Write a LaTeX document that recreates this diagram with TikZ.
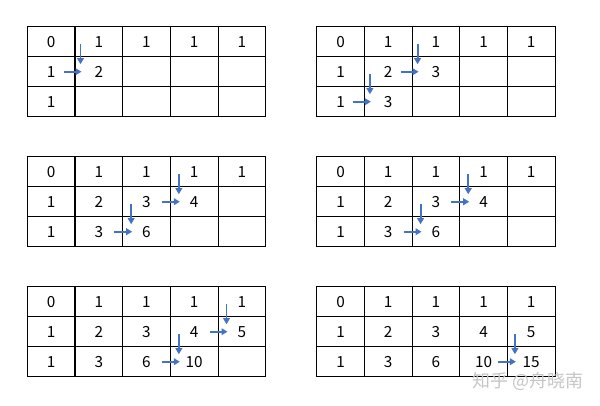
\documentclass[tikz,border=0pt]{standalone}
\usepackage{fontspec}
\setmainfont{Noto Sans CJK SC}
\usetikzlibrary{arrows.meta}
\definecolor{flowblue}{RGB}{68,114,196}
\tikzset{
        cellbox/.style={rectangle, draw=black, line width=0.7pt, inner sep=0pt, minimum width=35.75pt, minimum height=22.5pt, font=\fontsize{11.5}{13}\selectfont},
        % Arrow from the cell above
        flow_down/.style={flowblue, line width=1.4pt, -{Triangle[length=4.5pt,width=5pt]}},
        % Arrow from the cell on the left
        flow_right/.style={flowblue, line width=1.4pt, -{Triangle[length=4.5pt,width=5pt]}},
        % Watermark
        mark_text/.style={gray!45, font=\fontsize{13.5}{15}\selectfont}
}
\begin{document}
\begin{tikzpicture}[x=0.75pt, y=-0.75pt]
            \useasboundingbox (0,0) rectangle (600,405);
            % the six tables
            \foreach \t/\x/\y/\mid/\low in {
                a/27.3/26.7/{1,2,{},{},{}}/{1,{},{},{},{}},
                b/316.7/26.7/{1,2,3,{},{}}/{1,3,{},{},{}},
                c/27.3/156.7/{1,2,3,4,{}}/{1,3,6,{},{}},
                d/316.7/156.7/{1,2,3,4,{}}/{1,3,6,{},{}},
                e/27.3/286.7/{1,2,3,4,5}/{1,3,6,10,{}},
                f/316.7/286.7/{1,2,3,4,5}/{1,3,6,10,15}}{
                \foreach \v [count=\c from 0] in {0,1,1,1,1}
                    \node[cellbox] (\t_0_\c) at (\x+\c*47.67+23.83, \y+15) {\v};
                \foreach \v [count=\c from 0] in \mid
                    \node[cellbox] (\t_1_\c) at (\x+\c*47.67+23.83, \y+45) {\v};
                \foreach \v [count=\c from 0] in \low
                    \node[cellbox] (\t_2_\c) at (\x+\c*47.67+23.83, \y+75) {\v};
            }
            % arrows into the new cell
            \foreach \t/\r/\c/\dx in {a/1/1/6, b/1/2/6, b/2/1/6, c/1/3/9, c/2/2/9, d/1/3/9, d/2/2/9, e/1/4/9, e/2/3/9, f/2/4/8}{
                \draw[flow_down] ([shift={(\dx,-12.5)}]\t_\r_\c.north west) -- ([shift={(\dx,8)}]\t_\r_\c.north west);
                \draw[flow_right] ([shift={(\dx-17,0)}]\t_\r_\c.west) -- ([shift={(\dx+1,0)}]\t_\r_\c.west);
            }
            \node[mark_text] (mark) at (528,381) {知乎\ @舟晓南};
\end{tikzpicture}
\end{document}
